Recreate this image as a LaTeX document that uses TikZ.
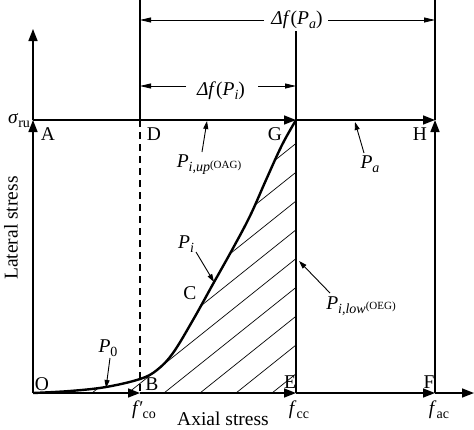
\documentclass[tikz,border=0pt]{standalone}
\usepackage{fontspec}
\setmainfont{Liberation Serif}
\usetikzlibrary{arrows.meta}
\newcommand{\lsub}[1]{\raisebox{-0.45ex}{\fontsize{14}{15}\selectfont #1}}
\newcommand{\lsup}[1]{\raisebox{0.6ex}{\fontsize{11}{12}\selectfont #1}}
\begin{document}
\begin{tikzpicture}[x=1pt,y=-1pt]
\tikzset{
 frame/.style={line width=1.5pt},
 bigtip/.style={-{Triangle[length=12pt,width=9pt]}},
 dimline/.style={line width=0.8pt,-{Triangle[length=11pt,width=5pt]}},
 note/.style={line width=0.9pt,-{Triangle[length=8pt,width=5pt]}},
 curve/.style={line width=2.4pt},
 hatch/.style={line width=0.7pt},
 lbl/.style={font=\fontsize{19.5}{22}\selectfont, inner sep=0pt},
}
\useasboundingbox (0,0) rectangle (474,429);
% key points
\coordinate (O) at (33,393);
\coordinate (B) at (140,393);
\coordinate (E) at (296,393);
\coordinate (F) at (435,393);
\coordinate (Xend) at (474,393);
\coordinate (A) at (33,120);
\coordinate (Yend) at (33,29);
\coordinate (D) at (140,120);
\coordinate (G) at (296,120);
\coordinate (H) at (435,120);
\coordinate (Dtop) at (140,0);
\coordinate (Gtop) at (296,31);
\coordinate (Htop) at (435,0);
% hatching
\begin{scope}
\clip plot[smooth,tension=0.6] coordinates {(33,393) (70,391) (106,387) (140,379) (157,370) (173,353) (193,320) (213,284) (232,250) (250,216) (266,180) (282,145) (296,120)} -- (296,393) -- cycle;
\foreach \x in {-52,-16,20,56,92,128,164,200,236,272}
  \draw[hatch] (\x,393) -- ++(400,-320);
\end{scope}
% curve
\draw[curve] plot[smooth,tension=0.6] coordinates {(33,393) (70,391) (106,387) (140,379) (157,370) (173,353) (193,320) (213,284) (232,250) (250,216) (266,180) (282,145) (296,120)};
% frame lines
\draw[frame,bigtip] (O) -- (A);
\draw[frame,bigtip] (A) -- (Yend);
\draw[frame,bigtip] (O) -- (B);
\draw[frame,bigtip] (B) -- (E);
\draw[frame,bigtip] (E) -- (F);
\draw[frame,bigtip] (F) -- (Xend);
\draw[frame,bigtip] (A) -- (G);
\draw[frame,bigtip] (G) -- (H);
\draw[frame] (Dtop) -- (D);
\draw[frame,dash pattern=on 7pt off 5pt] (D) -- (B);
\draw[frame] (Gtop) -- (E);
\draw[frame,bigtip] (F) -- (H);
\draw[frame] (H) -- (Htop);
% dimension arrows
\node[lbl] (dPa) at (297,20) {\textit{Δf}(\textit{P}\lsub{\textit{a}})};
\coordinate (dPaL) at (140,20);
\coordinate (dPaR) at (435,20);
\coordinate (dPaLs) at (264,20);
\coordinate (dPaRs) at (328,20);
\draw[dimline] (dPaLs) -- (dPaL);
\draw[dimline] (dPaRs) -- (dPaR);
\node[lbl] (dPi) at (221,91) {\textit{Δf}(\textit{P}\lsub{\textit{i}})};
\coordinate (dPiL) at (140,86);
\coordinate (dPiR) at (296,86);
\coordinate (dPiLs) at (186,86);
\coordinate (dPiRs) at (258,86);
\draw[dimline] (dPiLs) -- (dPiL);
\draw[dimline] (dPiRs) -- (dPiR);
% point labels
\node[lbl] (lsig) at (19,121) {\textit{σ}\lsub{ru}};
\node[lbl] (lA) at (48,134) {A};
\node[lbl] (lD) at (154,134) {D};
\node[lbl] (lG) at (275,134) {G};
\node[lbl] (lH) at (420,134) {H};
\node[lbl] (lO) at (42,384) {O};
\node[lbl] (lB) at (152,384) {B};
\node[lbl] (lE) at (290,382) {E};
\node[lbl] (lF) at (429,382) {F};
\node[lbl] (lC) at (190,293) {C};
\node[lbl] (lfco) at (144,410) {\textit{f\kern0.5pt′}\lsub{co}};
\node[lbl] (lfcc) at (299,410) {\textit{f}\lsub{cc}};
\node[lbl] (lfac) at (439,410) {\textit{f}\lsub{ac}};
\node[lbl,anchor=base] (lax) at (223,425.5) {Axial stress};
\node[lbl,rotate=90] (llat) at (11,228) {Lateral stress};
% annotations
\node[lbl] (lPup) at (209,165) {\textit{P}\lsub{\textit{i,up}\lsup{(OAG)}}};
\coordinate (Pups) at (202,152);
\coordinate (Pupe) at (207,121);
\draw[note] (Pups) -- (Pupe);
\node[lbl] (lPa) at (370,164) {\textit{P}\lsub{\textit{a}}};
\coordinate (Pas) at (364,153);
\coordinate (Pae) at (355,122);
\draw[note] (Pas) -- (Pae);
\node[lbl] (lPi) at (186,244) {\textit{P}\lsub{\textit{i}}};
\coordinate (Pis) at (196,252);
\coordinate (Pie) at (214,282);
\draw[note] (Pis) -- (Pie);
\node[lbl] (lP0) at (108,348) {\textit{P}\lsub{0}};
\coordinate (P0s) at (110,358);
\coordinate (P0e) at (106,388);
\draw[note] (P0s) -- (P0e);
\node[lbl] (lPlow) at (361,306) {\textit{P}\lsub{\textit{i,low}\lsup{(OEG)}}};
\coordinate (Plows) at (330,293);
\coordinate (Plowe) at (299,261);
\draw[note] (Plows) -- (Plowe);
\end{tikzpicture}
\end{document}
